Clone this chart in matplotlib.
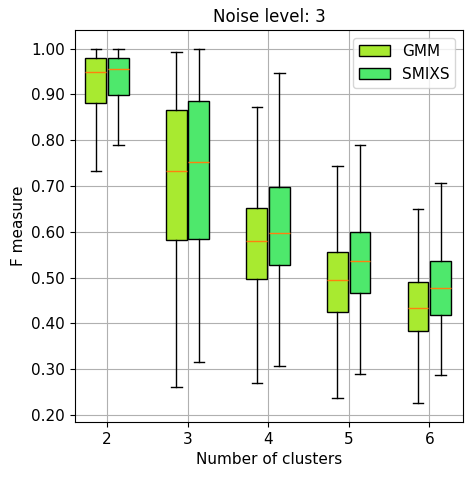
import matplotlib.pyplot as plt
import numpy as np

clusters = [2, 3, 4, 5, 6]
# whislo, q1, med, q3, whishi
gmm = [
    [0.733, 0.881, 0.948, 0.980, 1.000],
    [0.262, 0.582, 0.733, 0.866, 0.993],
    [0.271, 0.497, 0.581, 0.652, 0.872],
    [0.237, 0.424, 0.494, 0.555, 0.744],
    [0.226, 0.384, 0.434, 0.491, 0.649],
]
smixs = [
    [0.789, 0.899, 0.955, 0.980, 1.000],
    [0.316, 0.584, 0.752, 0.885, 1.000],
    [0.307, 0.527, 0.597, 0.698, 0.947],
    [0.290, 0.467, 0.536, 0.600, 0.789],
    [0.287, 0.418, 0.477, 0.537, 0.706],
]
labels = ["GMM", "SMIXS"]
colors = ["#a8ea30", "#4ee86c"]


def to_stats(rows):
    return [dict(whislo=r[0], q1=r[1], med=r[2], q3=r[3], whishi=r[4], fliers=[]) for r in rows]


plt.rcParams['font.size'] = 11
fig, ax = plt.subplots(figsize=(4.74, 4.79), dpi=100)
x = np.array(clusters, dtype=float)
handles = []
for data, off, col in zip([gmm, smixs], [-0.14, 0.14], colors):
    bp = ax.bxp(to_stats(data), positions=x + off, widths=0.26, patch_artist=True,
                showfliers=False, manage_ticks=False,
                boxprops=dict(facecolor=col, edgecolor="black"),
                medianprops=dict(color="#ff7f0e"))
    handles.append(bp["boxes"][0])

ax.set_xticks(x)
ax.set_xticklabels([str(c) for c in clusters])
ax.set_xlim(1.6, 6.42)
ax.set_ylim(0.185, 1.04)
ax.set_yticks(np.arange(0.2, 1.01, 0.1))
ax.yaxis.set_major_formatter(plt.FormatStrFormatter("%.2f"))
ax.grid(True, color="#b0b0b0")
ax.set_axisbelow(True)
ax.set_xlabel("Number of clusters")
ax.set_ylabel("F measure")
ax.set_title("Noise level: 3", fontsize=12)
ax.legend(handles, labels, loc="upper right")
plt.subplots_adjust(left=0.158, right=0.977, top=0.937, bottom=0.119)
plt.savefig("out.png")
